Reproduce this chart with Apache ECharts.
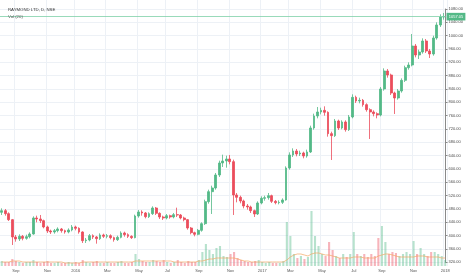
<!DOCTYPE html>
<html><head><meta charset="utf-8">
<script src="https://cdn.jsdelivr.net/npm/echarts@6/dist/echarts.min.js"></script>
<style>html,body{margin:0;padding:0;background:#fff}#c{width:466px;height:275px}</style>
</head><body><div id="c"></div>
<script>
// weekly candles, first week starting Monday 2015-08-03
const firstWeek = [2015, 7, 3];
const weekCount = 127;
const monthNames = ['Jan','Feb','Mar','Apr','May','Jun','Jul','Aug','Sep','Oct','Nov','Dec'];
const lastPrice = 1057.05;

const opens = [470,475,466,448,396,390,398,392,397,405,
453,450,445,426,414,411,415,420,415,411,
417,426,422,411,385,387,400,396,391,402,
398,400,394,388,395,408,403,398,394,459,
471,468,457,466,483,467,456,453,460,456,
463,462,453,448,423,409,404,416,436,502,
532,543,582,618,624,630,622,522,515,504,
489,486,475,465,498,512,514,520,503,499,
500,507,603,642,654,645,648,639,651,723,
759,771,776,770,706,700,744,723,741,718,
756,815,804,806,793,778,771,766,762,840,
894,882,828,813,834,866,904,912,969,942,
951,984,954,945,993,1032,1056];
const closes = [475,466,448,396,390,398,392,397,405,453,
450,445,426,414,411,415,420,415,411,417,
426,422,411,385,387,400,396,391,402,398,
400,394,388,395,408,403,398,394,459,471,
468,457,466,483,467,456,453,460,456,463,
462,453,448,423,409,404,416,436,502,532,
543,582,618,624,630,622,522,515,504,489,
486,475,465,498,512,514,520,503,499,500,
507,603,642,654,645,648,639,651,723,759,
771,776,770,706,700,744,723,741,718,756,
815,804,806,793,778,771,766,762,840,894,
882,828,813,834,866,904,912,969,942,951,
984,954,945,993,1032,1056,1057];
const lows = [462,460,444,372,382,384,386,388,392,403,
440,438,422,408,405,406,410,409,406,407,
413,416,406,378,378,383,390,376,387,393,
392,389,382,384,392,397,393,390,392,454,
460,452,453,462,462,450,447,449,451,452,
456,449,443,418,404,398,401,412,432,496,
465,538,576,606,604,614,462,500,497,482,
478,468,456,462,494,505,508,498,494,494,
495,505,598,636,638,639,632,634,648,718,
752,764,760,697,627,696,717,719,712,714,
752,798,797,787,772,690,758,752,758,835,
874,822,765,808,829,861,898,908,935,930,
946,948,933,940,988,1026,1048];
const highs = [482,480,470,450,402,404,402,403,410,458,
460,462,448,430,418,420,425,423,418,422,
432,430,425,413,393,405,404,399,407,406,
405,404,397,400,413,412,407,401,463,477,
476,471,470,488,486,470,460,465,463,468,
484,465,457,450,426,412,420,440,508,538,
550,588,625,643,640,642,628,528,520,508,
495,490,478,503,518,520,528,523,507,506,
512,608,650,662,660,655,652,658,730,766,
786,784,788,773,712,750,748,746,746,762,
824,820,814,810,797,782,776,770,846,902,
900,886,832,840,872,910,920,1005,975,958,
992,990,960,1000,1040,1064,1068];
const volumes = [5,4,4,7,5,4,3,4,4,6,
4,3,4,5,3,3,4,3,3,4,
3,4,3,6,4,3,4,5,3,3,
4,3,3,4,5,3,3,4,12,7,
5,4,4,6,5,4,6,4,3,4,
6,4,3,5,4,4,6,14,22,16,
12,18,20,10,9,12,14,8,6,5,
4,4,5,6,4,3,4,3,3,3,
5,44,30,12,8,10,7,9,55,30,
20,12,10,24,16,10,8,12,9,12,
34,12,10,12,9,12,10,28,40,24,
12,14,13,10,12,14,12,25,12,18,
12,10,14,14,12,10,6];
const volumeMA = [4,4,4,5,5,5,4,4,4,4,
4,4,4,4,4,4,4,4,3,3,
3,3,3,4,4,4,4,4,4,4,
4,4,4,4,4,4,4,4,5,5,
5,5,5,5,5,5,5,5,5,4,
4,4,4,4,4,4,5,5,6,7,
7,8,8,8,8,8,8,7,6,5,
5,4,4,4,4,4,4,4,4,4,
4,6,9,11,12,12,11,10,12,13,
13,12,11,11,10,9,8,8,8,8,
9,9,9,8,8,8,8,10,11,12,
12,11,10,9,9,9,9,9,10,10,
10,9,9,9,9,8,8];

const UP = '#53b987', DOWN = '#eb4d5c';
const categories = [];
const labelText = {};
const t0 = Date.UTC(firstWeek[0], firstWeek[1], firstWeek[2]);
for (let i = 0; i < weekCount; i++) {
  const d = new Date(t0 + i * 7 * 86400000);
  categories.push(d.toISOString().slice(0, 10));
  for (let k = 0; k < 5; k++) {
    const dd = new Date(t0 + (i * 7 + k) * 86400000);
    const isFirst = dd.getUTCDate() === 1 || (dd.getUTCDay() === 1 && dd.getUTCDate() <= 3);
    if (isFirst && dd.getUTCMonth() % 2 === 0) {
      labelText[i] = dd.getUTCMonth() === 0 ? String(dd.getUTCFullYear()) : monthNames[dd.getUTCMonth()];
    }
  }
}
const ohlc = opens.map((o, i) => [o, closes[i], lows[i], highs[i]]);
const volData = volumes.map((v, i) => ({
  value: v,
  itemStyle: { color: closes[i] >= opens[i] ? 'rgba(83,185,135,0.42)' : 'rgba(235,77,92,0.42)' }
}));
const showIdx = (idx) => labelText[idx] !== undefined;
const FONT = 'Liberation Sans';

const chart = echarts.init(document.getElementById('c'), null, { renderer: 'canvas' });
chart.setOption({
  animation: false,
  backgroundColor: '#ffffff',
  title: [
    { text: 'RAYMOND LTD, D, NSE', left: 3, top: 2.5,
      textStyle: { fontSize: 4.3, color: '#333', fontWeight: 'normal', fontFamily: FONT } },
    { text: 'Vol (20)', left: 3, top: 10.3,
      textStyle: { fontSize: 4.3, color: '#555', fontWeight: 'normal', fontFamily: FONT } }
  ],
  grid: [
    { left: 0, right: 19, top: 9, bottom: 12.67 },
    { left: 0, right: 19, top: 0, bottom: 9 }
  ],
  xAxis: [
    { type: 'category', gridIndex: 0, data: categories, boundaryGap: true,
      axisLine: { show: false }, axisTick: { show: false }, axisLabel: { show: false },
      splitLine: { show: false } },
    { type: 'category', gridIndex: 1, data: categories, boundaryGap: true,
      axisLine: { show: false }, axisTick: { show: false },
      axisLabel: { interval: showIdx, formatter: (v, idx) => labelText[idx] || '',
        fontSize: 4, color: '#555', margin: 2.5, fontFamily: FONT },
      splitLine: { show: true, interval: showIdx, lineStyle: { color: '#edf1f6', width: 1 } } }
  ],
  yAxis: [
    { type: 'value', gridIndex: 0, position: 'right', min: 320, max: 1080, interval: 40,
      axisLine: { show: true, lineStyle: { color: '#8a8a8a', width: 1 } },
      axisTick: { show: true, length: 2, lineStyle: { color: '#8a8a8a' } },
      axisLabel: { formatter: v => v.toFixed(2), fontSize: 4, color: '#4a4a4a', margin: 3, fontFamily: FONT },
      splitLine: { show: true, lineStyle: { color: '#edf1f6', width: 1 } } },
    { type: 'value', gridIndex: 1, min: 0, max: 266, show: false, splitLine: { show: false } }
  ],
  series: [
    { type: 'bar', xAxisIndex: 1, yAxisIndex: 1, data: volData, barWidth: '60%', z: 1, silent: true },
    { type: 'line', xAxisIndex: 1, yAxisIndex: 1, data: volumeMA, symbol: 'none', z: 2,
      lineStyle: { color: '#f4a45e', width: 0.8, opacity: 0.85 }, silent: true },
    { type: 'candlestick', xAxisIndex: 0, yAxisIndex: 0, data: ohlc, barWidth: '65%', z: 3,
      itemStyle: { color: UP, color0: DOWN, borderColor: UP, borderColor0: DOWN, borderWidth: 0.8 },
      markLine: {
        symbol: 'none', silent: true, animation: false,
        lineStyle: { color: '#7fd0a8', type: 'solid', width: 0.8 },
        label: { show: true, position: 'end', distance: 1, formatter: lastPrice.toFixed(2),
          backgroundColor: UP, color: '#fff', fontSize: 4, padding: [1.8, 2.2], fontFamily: FONT },
        data: [{ yAxis: lastPrice }]
      } }
  ]
});
</script>
</body></html>
